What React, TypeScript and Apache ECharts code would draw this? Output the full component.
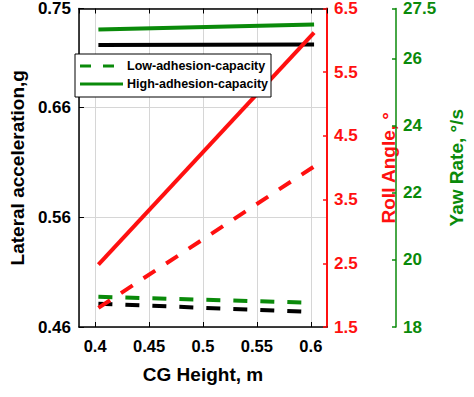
import React, { useEffect, useRef } from "react";
import * as echarts from "echarts";

// ---- data ----
const cgHeight = [0.403, 0.603];
const latHigh = [0.7168, 0.7173];
const latLow = [0.4812, 0.4736];
const rollHigh = [2.48, 6.12];
const rollLow = [1.8, 4.02];
const yawHigh = [26.87, 27.02];
const yawLow = [18.9, 18.72];
const legendNames = ["Low-adhesion-capacity", "High-adhesion-capacity"];
const xTitle = "CG Height, m";
const latTitle = "Lateral acceleration,g";
const rollTitle = "Roll Angle, °";
const yawTitle = "Yaw Rate, °/s";

const FONT = "'Liberation Sans', Arial, Helvetica, sans-serif";
const GREEN = "#0a8a0a";
const RED = "#ff1010";
const BLACK = "#000000";
const DASH = [14, 13];

const pts = (ys: number[]) => cgHeight.map((x, i) => [x, ys[i]]);

export default function App() {
  const ref = useRef<HTMLDivElement>(null);
  useEffect(() => {
    if (!ref.current) return;
    const chart = echarts.init(ref.current, null, { renderer: "svg" });
    const line = (
      name: string,
      data: number[][],
      color: string,
      yAxisIndex: number,
      dashed: boolean
    ) => ({
      type: "line",
      name,
      data,
      yAxisIndex,
      showSymbol: false,
      symbol: "none",
      lineStyle: { color, width: 4, type: dashed ? DASH : "solid", cap: "butt" },
      z: 3,
    });
    chart.setOption({
      animation: false,
      textStyle: { fontFamily: FONT, fontWeight: "bold" },
      grid: { left: 71, right: 127, top: 7, bottom: 70, containLabel: false },
      xAxis: [
        {
          type: "value",
          min: 0.385,
          max: 0.615,
          splitNumber: 5,
          position: "bottom",
          name: xTitle,
          nameLocation: "middle",
          nameGap: 38,
          nameTextStyle: { fontSize: 19, fontWeight: "bold", color: BLACK, fontFamily: FONT },
          axisLine: { show: true, lineStyle: { color: BLACK, width: 1.5 } },
          axisTick: { show: true, inside: true, length: 5, lineStyle: { color: BLACK } },
          axisLabel: {
            showMinLabel: false,
            showMaxLabel: false,
            fontSize: 16.5,
            fontWeight: "bold",
            color: BLACK,
            margin: 10,
            fontFamily: FONT,
          },
          splitLine: { show: true, lineStyle: { color: "#d6d6d6", width: 1 } },
        },
        {
          type: "value",
          min: 0.385,
          max: 0.615,
          splitNumber: 5,
          position: "top",
          axisLine: { show: true, lineStyle: { color: BLACK, width: 1.5 } },
          axisTick: { show: true, inside: true, length: 5, lineStyle: { color: BLACK } },
          axisLabel: { show: false },
          splitLine: { show: false },
        },
      ],
      yAxis: [
        {
          type: "value",
          min: 0.46,
          max: 0.75,
          interval: 0.1,
          position: "left",
          name: latTitle,
          nameLocation: "middle",
          nameGap: 43,
          nameTextStyle: { fontSize: 19, fontWeight: "bold", color: BLACK, fontFamily: FONT },
          axisLine: { show: true, lineStyle: { color: BLACK, width: 1.5 } },
          axisTick: { show: true, inside: true, length: 5, lineStyle: { color: BLACK } },
          axisLabel: {
            fontSize: 17,
            fontWeight: "bold",
            color: BLACK,
            margin: 8,
            fontFamily: FONT,
            formatter: (v: number) => v.toFixed(2),
          },
          splitLine: { show: true, lineStyle: { color: "#d6d6d6", width: 1 } },
        },
        {
          type: "value",
          min: 1.5,
          max: 6.5,
          interval: 1,
          position: "right",
          offset: 0,
          name: rollTitle,
          nameLocation: "middle",
          nameGap: 52,
          nameTextStyle: { fontSize: 19, fontWeight: "bold", color: RED, fontFamily: FONT },
          axisLine: { show: true, lineStyle: { color: RED, width: 2 } },
          axisTick: { show: true, inside: true, length: 4, lineStyle: { color: RED, width: 1.5 } },
          axisLabel: {
            fontSize: 17,
            fontWeight: "bold",
            color: RED,
            margin: 7,
            fontFamily: FONT,
            formatter: (v: number) => v.toFixed(1),
          },
          splitLine: { show: false },
        },
        {
          type: "value",
          min: 18,
          max: 27.5,
          interval: 2,
          position: "right",
          offset: 69,
          name: yawTitle,
          nameLocation: "middle",
          nameGap: 40,
          nameTextStyle: { fontSize: 19, fontWeight: "bold", color: GREEN, fontFamily: FONT },
          axisLine: { show: true, lineStyle: { color: GREEN, width: 1.5 } },
          axisTick: { show: true, inside: true, length: 4, lineStyle: { color: GREEN, width: 1.5 } },
          axisLabel: {
            fontSize: 17,
            fontWeight: "bold",
            color: GREEN,
            margin: 7,
            fontFamily: FONT,
            formatter: (v: number) => (Number.isInteger(v) ? String(v) : v.toFixed(1)),
          },
          splitLine: { show: false },
        },
      ],
      series: [
        line("Lateral high", pts(latHigh), BLACK, 0, false),
        line("Lateral low", pts(latLow), BLACK, 0, true),
        line("Roll high", pts(rollHigh), RED, 1, false),
        line("Roll low", pts(rollLow), RED, 1, true),
        line("Yaw high", pts(yawHigh), GREEN, 2, false),
        line("Yaw low", pts(yawLow), GREEN, 2, true),
      ],
      graphic: [
        {
          type: "rect",
          shape: { x: 75, y: 54, width: 196, height: 43 },
          style: { fill: "#ffffff", stroke: BLACK, lineWidth: 1 },
          z: 10,
        },
        {
          type: "line",
          shape: { x1: 80, y1: 66, x2: 123, y2: 66 },
          style: { stroke: GREEN, lineWidth: 3, lineDash: [11, 12] },
          z: 11,
        },
        {
          type: "line",
          shape: { x1: 80, y1: 84, x2: 123, y2: 84 },
          style: { stroke: GREEN, lineWidth: 3 },
          z: 11,
        },
        {
          type: "text",
          x: 127,
          y: 66,
          style: {
            text: legendNames[0],
            font: `bold 12.5px ${FONT}`,
            fill: BLACK,
            textVerticalAlign: "middle",
            verticalAlign: "middle",
          },
          z: 11,
        },
        {
          type: "text",
          x: 127,
          y: 84,
          style: {
            text: legendNames[1],
            font: `bold 12.5px ${FONT}`,
            fill: BLACK,
            textVerticalAlign: "middle",
            verticalAlign: "middle",
          },
          z: 11,
        },
      ],
    });
    return () => chart.dispose();
  }, []);
  return <div ref={ref} style={{ width: 474, height: 397, position: "absolute", left: 0, top: 0 }} />;
}
